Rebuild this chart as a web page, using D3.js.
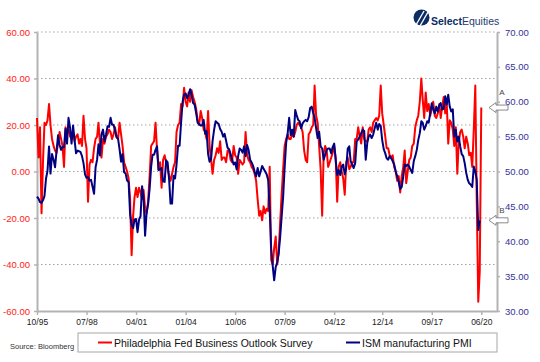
<!DOCTYPE html>
<html>
<head>
<meta charset="utf-8">
<script src="https://cdnjs.cloudflare.com/ajax/libs/d3/7.8.5/d3.min.js"></script>
<style>
  body { margin: 0; background: #fff; }
  svg { display: block; font-family: Arial, "Liberation Sans", sans-serif; }
</style>
</head>
<body>
<div id="chart"></div>
<script>
// monthly series, first value = Oct 1995
var startMonth = new Date(1995, 9, 1)

// Philadelphia Fed Business Outlook Survey (left axis), Oct 95 .. Jun 20
var phillyFed = [
  23, 6, 19,
  -18, 5, 21, 20, 22, 29, 20, 14, 11, 9, 8, 12,
  17, 14, 11, 2, 19, 17, 18, 15, 16, 17, 13, 15,
  16, 12, 14, 11, 24, 14, 10, -13, 3, 5, 4, 10,
  14, 15, 21, 12, 6, 14, 12, 15, 16, 18, 17, 14,
  16, 19, 15, 14, 21, 16, 11, 4, 2, 0, -3, -12,
  -36, -19, -11, -7, -11, -7, -9, -12, -8, -16, -18, -13,
  -2, 11, 12, 13, 21, 9, 1, 4, -7, 5, 7, 4,
  1, -2, -4, -1, 2, 4, 17, 20, 21, 29, 28, 36,
  30, 28, 34, 30, 35, 32, 30, 27, 22, 20, 26, 23,
  18, 17, 14, 26, 11, 5, -1, 5, 7, 10, 8, 13,
  5, 6, 6, 4, 9, 9, 5, 4, 11, 7, 6, -1,
  5, 4, 3, 4, 17, 7, 5, 4, 2, 1, -1, -4,
  -12, -19, -17, -21, -15, -18, -16, -17, 2, -38, -40, -33,
  -28, -40, -35, -22, -10, 1, 11, 14, 16, 14, 14, 16,
  15, 17, 20, 21, 20, 19, 17, 9, 5, 4, 16, 17,
  19, 20, 37, 24, 21, 11, 1, -19, 8, 11, 9, 2,
  4, 6, 8, 11, 6, -13, 2, 4, 0, -3, -10, 4,
  6, 1, 2, 4, 4, 14, 14, 19, 15, 12, 19, 14,
  13, 13, 18, 19, 17, 21, 22, 23, 22, 24, 37, 25,
  20, 15, 10, 10, 7, 6, 7, 2, 0, -4, -2, -9,
  -2, 2, 9, -5, 0, 5, 6, 11, 12, 19, 22, 24,
  30, 40, 31, 23, 34, 26, 29, 24, 27, 30, 24, 23,
  25, 29, 23, 28, 32, 25, 30, 12, 22, 21, 18, 11,
  19, -1, 12, 17, 18, 15, 10, 15, 12, 7, 8, 2,
  18, 37, -12, -56, -43, 27.5
]

// ISM manufacturing PMI (right axis), Oct 95 .. May 20
var ismPmi = [
  46.4, 46.1, 45.6,
  45.5, 45.9, 46.5, 49.0, 50.1, 53.6, 49.7, 52.5, 51.7, 50.6, 53.0, 55.2,
  53.8, 53.1, 53.5, 53.5, 56.1, 54.0, 57.7, 56.3, 54.0, 56.6, 54.5, 52.6,
  53.0, 52.9, 52.8, 52.2, 51.2, 49.6, 49.1, 49.2, 48.7, 48.8, 47.8, 46.8,
  50.6, 51.7, 53.9, 52.3, 55.3, 56.0, 54.3, 55.3, 56.5, 56.4, 57.7, 56.7,
  56.7, 55.8, 54.9, 54.7, 53.2, 51.4, 52.5, 49.9, 49.7, 48.7, 48.5, 43.9,
  42.3, 41.9, 43.1, 43.2, 41.3, 43.1, 43.6, 47.9, 46.2, 40.8, 44.1, 45.3,
  47.5, 50.7, 52.4, 52.4, 53.1, 53.6, 50.2, 50.3, 50.5, 48.6, 48.5, 51.6,
  51.3, 48.8, 45.4, 45.4, 49.4, 49.0, 51.0, 53.7, 53.7, 57.0, 60.0, 61.0,
  61.2, 60.5, 61.0, 61.8, 61.0, 59.8, 59.6, 58.4, 57.0, 56.8, 56.6, 56.6,
  57.4, 55.4, 55.8, 52.5, 51.4, 51.8, 54.4, 56.0, 57.2, 57.0, 56.8, 56.1,
  55.7, 55.0, 55.4, 54.4, 53.4, 53.2, 52.5, 51.7, 51.0, 51.3, 50.3, 52.2,
  53.3, 53.1, 52.7, 53.6, 52.2, 53.8, 53.1, 51.7, 51.3, 50.8, 50.0, 49.3,
  50.5, 49.3, 50.0, 50.8, 50.4, 50.0, 49.6, 48.8, 44.5, 39.0, 36.5, 34.4,
  36.3, 37.0, 38.2, 40.6, 43.5, 46.4, 50.5, 54.1, 55.5, 57.7, 55.2, 56.0,
  55.0, 58.8, 58.1, 57.4, 57.2, 56.2, 56.9, 57.2, 57.4, 57.2, 57.8, 59.1,
  59.3, 58.4, 57.7, 56.2, 54.8, 55.7, 53.6, 53.3, 51.7, 52.4, 53.1, 53.3,
  53.3, 52.6, 53.5, 54.0, 51.7, 49.5, 50.2, 49.5, 50.7, 51.0, 49.6, 50.5,
  53.3, 53.6, 51.5, 51.0, 50.5, 51.2, 54.3, 54.6, 55.0, 55.5, 56.0, 55.8,
  51.7, 54.1, 55.0, 55.3, 54.8, 55.3, 56.2, 57.0, 56.0, 56.8, 56.5, 54.5,
  53.2, 52.6, 51.9, 51.7, 52.2, 51.9, 51.5, 51.0, 50.0, 49.3, 48.5, 47.5,
  47.8, 49.3, 51.0, 50.8, 51.0, 50.7, 50.2, 49.8, 51.5, 52.2, 53.1, 54.5,
  55.5, 57.2, 57.0, 56.0, 56.5, 57.2, 57.0, 58.4, 59.8, 58.9, 58.3, 59.3,
  58.6, 59.5, 59.8, 58.9, 59.0, 60.8, 59.6, 61.0, 59.3, 58.6, 58.9, 55.0,
  56.0, 54.3, 55.0, 53.6, 52.5, 52.2, 51.2, 49.8, 48.8, 48.3, 48.1, 47.8,
  50.7, 50.0, 48.8, 41.6, 43.0
]

var xTickDates = [
  new Date(1995, 9, 1), new Date(1998, 6, 1), new Date(2001, 3, 1), new Date(2004, 0, 1),
  new Date(2006, 9, 1), new Date(2009, 6, 1), new Date(2012, 3, 1), new Date(2014, 11, 1),
  new Date(2017, 8, 1), new Date(2020, 5, 1)
]
var leftTicks = [-60, -40, -20, 0, 20, 40, 60]
var rightTicks = [30, 35, 40, 45, 50, 55, 60, 65, 70]
var seriesNames = ['Philadelphia Fed Business Outlook Survey', 'ISM manufacturing PMI']
var seriesColors = ['#ff0000', '#000080']

var svg = d3.select('#chart').append('svg').attr('width', 540).attr('height', 362)

var x = d3.scaleTime().domain([startMonth, new Date(2021, 3, 16)]).range([37, 497])
var yL = d3.scaleLinear().domain([-60, 60]).range([311, 32])
var yR = d3.scaleLinear().domain([30, 70]).range([311, 32])
function monthAt(i) { return d3.timeMonth.offset(startMonth, i) }

// dotted gridlines
svg.append('g').selectAll('line')
  .data(leftTicks.filter(d => d > -60))
  .enter().append('line')
  .attr('x1', 37).attr('x2', 497)
  .attr('y1', d => yL(d)).attr('y2', d => yL(d))
  .attr('stroke', '#a6a6a6').attr('stroke-width', 1)
  .attr('stroke-dasharray', '1.5,2.5')

// axes
var fmt = d => d.toFixed(2)
var gL = svg.append('g').attr('transform', 'translate(37,0)')
  .call(d3.axisLeft(yL).tickValues(leftTicks).tickFormat(fmt).tickSize(3).tickSizeOuter(0))
var gR = svg.append('g').attr('transform', 'translate(497,0)')
  .call(d3.axisRight(yR).tickValues(rightTicks).tickFormat(fmt).tickSize(3).tickSizeOuter(0))
var gX = svg.append('g').attr('transform', 'translate(0,311)')
  .call(d3.axisBottom(x).tickValues(xTickDates).tickFormat(d3.timeFormat('%m/%y')).tickSize(4).tickSizeOuter(0))

;[gL, gR, gX].forEach(function(g) {
  g.select('.domain').attr('stroke', '#b3b3b3').attr('stroke-width', 2)
  g.selectAll('.tick line').attr('stroke', '#b3b3b3').attr('stroke-width', 1.5)
  g.selectAll('.tick text').style('font-family', 'Arial, "Liberation Sans", sans-serif')
})
gL.selectAll('.tick text').attr('fill', '#ff2020').style('font-size', '9.5px').attr('x', -7)
gR.selectAll('.tick text').attr('fill', '#333399').style('font-size', '9.5px').attr('x', 8)
gX.selectAll('.tick text').attr('fill', '#222').style('font-size', '8.5px').attr('y', 8)

// series lines
var lineL = d3.line().x((d, i) => x(monthAt(i))).y(d => yL(d))
var lineR = d3.line().x((d, i) => x(monthAt(i))).y(d => yR(d))

svg.append('path').datum(phillyFed)
  .attr('d', lineL).attr('fill', 'none')
  .attr('stroke', seriesColors[0]).attr('stroke-width', 2).attr('stroke-linejoin', 'round')
svg.append('path').datum(ismPmi)
  .attr('d', lineR).attr('fill', 'none')
  .attr('stroke', seriesColors[1]).attr('stroke-width', 2).attr('stroke-linejoin', 'round')

// callout arrows at the latest readings
function blockArrow(tx, ty) {
  return 'M' + tx + ',' + ty + 'L' + (tx + 7) + ',' + (ty - 5) + 'L' + (tx + 7) + ',' + (ty - 2.5) +
    'L' + (tx + 19) + ',' + (ty - 2.5) + 'L' + (tx + 19) + ',' + (ty + 2.5) + 'L' + (tx + 7) + ',' + (ty + 2.5) +
    'L' + (tx + 7) + ',' + (ty + 5) + 'Z'
}
var callouts = [
  { label: 'A', y: yL(phillyFed[phillyFed.length - 1]), dy: -16 },
  { label: 'B', y: yR(ismPmi[ismPmi.length - 1]), dy: -10 }
]
callouts.forEach(function(c) {
  svg.append('path').attr('d', blockArrow(489, c.y))
    .attr('fill', '#fff').attr('stroke', '#6e6e6e').attr('stroke-width', 0.8)
  svg.append('text').attr('x', 502).attr('y', c.y + c.dy + 3)
    .attr('text-anchor', 'middle').style('font-size', '8px').attr('fill', '#444').text(c.label)
})

// logo
var logo = svg.append('g')
logo.append('circle').attr('cx', 421.5).attr('cy', 17.5).attr('r', 8).attr('fill', '#0b2d63')
logo.append('line').attr('x1', 416).attr('y1', 25).attr('x2', 424).attr('y2', 11)
  .attr('stroke', '#fff').attr('stroke-width', 1.4)
logo.append('line').attr('x1', 420).attr('y1', 26).attr('x2', 428).attr('y2', 12)
  .attr('stroke', '#fff').attr('stroke-width', 1.4)
var logoText = logo.append('text').attr('x', 431).attr('y', 25).style('font-size', '10.5px').attr('fill', '#0b2d63')
logoText.append('tspan').style('font-weight', 'bold').text('Select')
logoText.append('tspan').attr('fill', '#1f3c70').text('Equities')

// source + legend
svg.append('text').attr('x', 10).attr('y', 349).style('font-size', '7.5px').attr('fill', '#333').text('Source: Bloomberg')

var legend = svg.append('g')
legend.append('rect').attr('x', 78).attr('y', 333).attr('width', 419).attr('height', 19)
  .attr('fill', '#fff').attr('stroke', '#a6a6a6').attr('stroke-width', 1)
var legendX = [98, 346]
seriesNames.forEach(function(name, i) {
  legend.append('line').attr('x1', legendX[i]).attr('x2', legendX[i] + 14).attr('y1', 342.5).attr('y2', 342.5)
    .attr('stroke', seriesColors[i]).attr('stroke-width', 2)
  legend.append('text').attr('x', legendX[i] + 16).attr('y', 346.5).style('font-size', '10.5px').attr('fill', '#111').text(name)
})
</script>
</body>
</html>
